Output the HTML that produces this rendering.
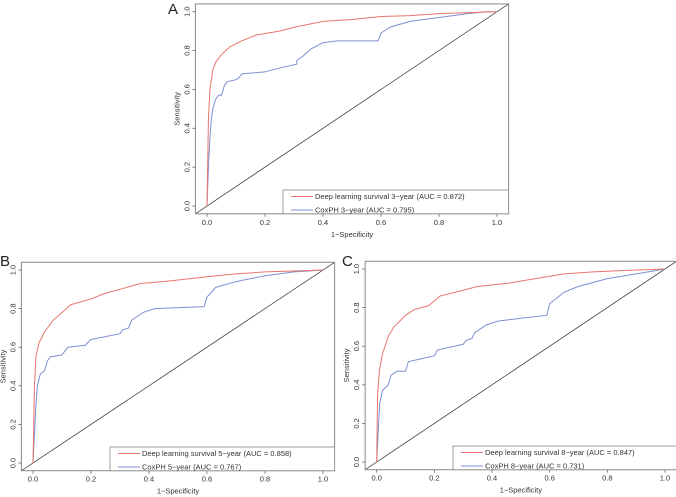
<!DOCTYPE html>
<html><head><meta charset="utf-8"><style>
html,body{margin:0;padding:0;background:#fff;}
svg{display:block;font-family:"Liberation Sans",Arial,sans-serif;}
</style></head><body>
<svg id="chart" width="676" height="497" viewBox="0 0 676 497" xmlns="http://www.w3.org/2000/svg"></svg>
<script>
const xTicks=[0,0.2,0.4,0.6,0.8,1.0];
const yTicks=[0,0.2,0.4,0.6,0.8,1.0];
const tickLabels=["0.0","0.2","0.4","0.6","0.8","1.0"];
const aRedX=[0,0.005,0.01,0.02,0.03,0.05,0.08,0.12,0.17,0.25,0.3,0.4,0.5,0.6,0.7,0.8,0.9,1];
const aRedY=[0,0.45,0.6,0.7,0.74,0.78,0.82,0.85,0.88,0.9,0.92,0.95,0.96,0.975,0.98,0.99,0.995,1];
const aBlueX=[0,0.005,0.01,0.015,0.02,0.03,0.04,0.05,0.06,0.07,0.1,0.11,0.12,0.2,0.25,0.31,0.31,0.33,0.36,0.4,0.45,0.59,0.6,0.63,0.7,0.8,0.9,0.96,1];
const aBlueY=[0,0.2,0.35,0.45,0.5,0.55,0.57,0.57,0.62,0.64,0.65,0.66,0.68,0.69,0.71,0.73,0.75,0.77,0.81,0.84,0.85,0.85,0.89,0.92,0.95,0.97,0.99,1,1];
const bRedX=[0,0.005,0.01,0.02,0.04,0.07,0.1,0.13,0.2,0.25,0.3,0.37,0.45,0.6,0.7,0.8,0.9,1];
const bRedY=[0,0.4,0.55,0.62,0.68,0.74,0.78,0.82,0.85,0.88,0.9,0.93,0.94,0.965,0.98,0.99,0.995,1];
const bBlueX=[0,0.01,0.015,0.025,0.04,0.05,0.06,0.1,0.12,0.18,0.2,0.3,0.31,0.33,0.34,0.38,0.42,0.59,0.6,0.63,0.7,0.8,0.9,1];
const bBlueY=[0,0.3,0.4,0.46,0.48,0.53,0.55,0.56,0.6,0.61,0.64,0.67,0.69,0.7,0.74,0.78,0.8,0.81,0.86,0.91,0.94,0.97,0.99,1];
const cRedX=[0,0.003,0.01,0.02,0.04,0.06,0.1,0.13,0.18,0.22,0.3,0.35,0.45,0.55,0.65,0.75,0.9,1];
const cRedY=[0,0.35,0.48,0.56,0.65,0.7,0.76,0.79,0.81,0.86,0.89,0.91,0.925,0.95,0.975,0.985,0.995,1];
const cBlueX=[0,0.005,0.01,0.02,0.04,0.05,0.07,0.1,0.11,0.17,0.2,0.21,0.3,0.31,0.33,0.34,0.38,0.42,0.5,0.59,0.6,0.65,0.7,0.8,0.9,1];
const cBlueY=[0,0.15,0.3,0.37,0.4,0.45,0.47,0.47,0.52,0.54,0.55,0.58,0.61,0.63,0.64,0.67,0.71,0.73,0.745,0.76,0.82,0.88,0.91,0.95,0.975,1];
const legendA=["Deep learning survival 3\u2212year (AUC = 0.872)","CoxPH 3\u2212year (AUC = 0.795)"];
const legendB=["Deep learning survival 5\u2212year (AUC = 0.858)","CoxPH 5\u2212year (AUC = 0.767)"];
const legendC=["Deep learning survival 8\u2212year (AUC = 0.847)","CoxPH 8\u2212year (AUC = 0.731)"];

const NS="http://www.w3.org/2000/svg";
const svg=document.getElementById('chart');
function mk(tag,attrs,parent){const e=document.createElementNS(NS,tag);for(const k in attrs)e.setAttribute(k,attrs[k]);(parent||svg).appendChild(e);return e;}

const panels=[
 {id:'a',letter:'A',lx:168,ly:14,x0:207,x1:497,y0:206,y1:11.7,leg:[283,190],rx:aRedX,ry:aRedY,bx:aBlueX,by:aBlueY,lt:legendA},
 {id:'b',letter:'B',lx:0,ly:266,x0:33,x1:323,y0:463,y1:270,leg:[110,447],rx:bRedX,ry:bRedY,bx:bBlueX,by:bBlueY,lt:legendB},
 {id:'c',letter:'C',lx:342,ly:266,x0:376.7,x1:665,y0:462,y1:269,leg:[453,446],rx:cRedX,ry:cRedY,bx:cBlueX,by:cBlueY,lt:legendC}
];
panels.forEach(p=>{
 const g=mk('g',{});
 
 
 const sx=v=>p.x0+(p.x1-p.x0)*v, sy=v=>p.y0+(p.y1-p.y0)*v;
 const L=sx(-0.04),R=sx(1.04),T=sy(1.04),B=sy(-0.04);
 const letter=mk('text',{x:p.lx,y:p.ly,'font-size':15,fill:'#222'},g);letter.textContent=p.letter;
 
 // diagonal
 const d=mk('line',{x1:L,y1:B,x2:R,y2:T,stroke:'#444','stroke-width':0.8},g);
 
 // curves
 const path=(xs,ys,col,name)=>{let s='';for(let i=0;i<xs.length;i++)s+=(i?'L':'M')+sx(xs[i]).toFixed(2)+','+sy(ys[i]).toFixed(2);
  const e=mk('path',{d:s,fill:'none',stroke:col,'stroke-width':1},g);};
 path(p.bx,p.by,'#7f8fd3','coxph-roc-curve');
 path(p.rx,p.ry,'#e8766c','deep-learning-roc-curve');
 // box
 const box=mk('rect',{x:L,y:T,width:R-L,height:B-T,fill:'none',stroke:'#888','stroke-width':1},g);
 
 // x ticks
 xTicks.forEach((v,i)=>{const x=sx(v);mk('line',{x1:x,y1:B,x2:x,y2:B+3,stroke:'#666','stroke-width':0.8},g);
  const t=mk('text',{x:x,y:B+11,'font-size':7.5,'text-anchor':'middle',fill:'#333'},g);t.textContent=tickLabels[i];
  });
 yTicks.forEach((v,i)=>{const y=sy(v);mk('line',{x1:L,y1:y,x2:L-3,y2:y,stroke:'#666','stroke-width':0.8},g);
  const t=mk('text',{x:0,y:0,'font-size':7.5,'text-anchor':'middle',fill:'#333',transform:`translate(${L-6},${y}) rotate(-90)`},g);t.textContent=tickLabels[i];
  });
 const xt=mk('text',{x:sx(0.5),y:B+23,'font-size':7.5,'text-anchor':'middle',fill:'#333'},g);xt.textContent='1\u2212Specificity';
 
 const yt=mk('text',{x:0,y:0,'font-size':7.5,'text-anchor':'middle',fill:'#333',transform:`translate(${L-16},${sy(0.5)}) rotate(-90)`},g);yt.textContent='Sensitivity';
 
 // legend
 const lg=mk('g',{},g);
 mk('rect',{x:p.leg[0],y:p.leg[1],width:R-p.leg[0],height:B-p.leg[1],fill:'#fff',stroke:'#888','stroke-width':0.8},lg);
 const cols=['#e8766c','#7f8fd3'];
 p.lt.forEach((s,i)=>{const y=p.leg[1]+6.5+i*13.5;
  mk('line',{x1:p.leg[0]+8,y1:y,x2:p.leg[0]+30,y2:y,stroke:cols[i],'stroke-width':1},lg);
  const t=mk('text',{x:p.leg[0]+32,y:y+2.7,'font-size':7.5,fill:'#333'},lg);t.textContent=s;
  });
});
</script>
</body></html>
